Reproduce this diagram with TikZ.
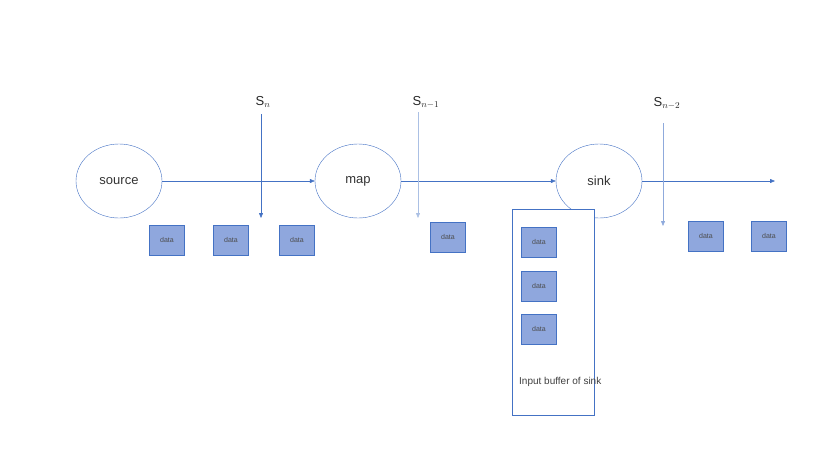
\documentclass[tikz,border=0pt]{standalone}
\usepackage{fontspec}
\setmainfont{Liberation Sans}
\usetikzlibrary{arrows.meta,shapes.geometric}
\definecolor{ln}{HTML}{4472C4}
\definecolor{dfill}{HTML}{8FA7DD}
\begin{document}
\begin{tikzpicture}[x=1pt,y=-1pt,
  op/.style={draw=ln,ellipse,minimum width=86pt,minimum height=74pt,font=\fontsize{13}{15}\selectfont,text=black!80,inner sep=0pt},
  datab/.style={draw=ln,fill=dfill,minimum width=35pt,minimum height=30pt,inner sep=0pt,font=\fontsize{7}{8}\selectfont,text=black!70},
  flow/.style={draw=ln,-{Triangle[length=5pt,width=4pt]}},
  lbl/.style={font=\fontsize{13}{15}\selectfont,text=black!85}]
\useasboundingbox (0,0) rectangle (830,453);
\node[op] (source) at (119,181) {source};
\node[op] (map) at (358,181) {map};
\node[op] (sink) at (599,181) {sink};
\coordinate (end) at (775,181);
\draw[flow] (source) -- (map);
\draw[flow] (map) -- (sink);
\draw[flow] (sink) -- (end);
\node[lbl] (s1) at (263,102) {S$_n$};
\node[lbl] (s2) at (426,102) {S$_{n-1}$};
\node[lbl] (s3) at (667,103) {S$_{n-2}$};
\coordinate (e1) at (261,218);
\coordinate (e2) at (418,218);
\coordinate (e3) at (663,226);
\draw[flow] (261,114) -- (e1);
\draw[flow,draw=ln!45] (418,112) -- (e2);
\draw[flow,draw=ln!60] (663,123) -- (e3);
\node[draw=ln,fill=white,minimum width=82pt,minimum height=206pt,inner sep=0pt] (buf) at (553,312) {};
\node[anchor=west,font=\fontsize{10}{12}\selectfont,text=black!75,inner sep=0pt] (buft) at (519,382) {Input buffer of sink};
\node[datab] (d1) at (167,240) {data};
\node[datab] (d2) at (231,240) {data};
\node[datab] (d3) at (297,240) {data};
\node[datab] (d4) at (448,237) {data};
\node[datab] (d5) at (539,242) {data};
\node[datab] (d6) at (539,286) {data};
\node[datab] (d7) at (539,329) {data};
\node[datab] (d8) at (706,236) {data};
\node[datab] (d9) at (769,236) {data};
\end{tikzpicture}
\end{document}
